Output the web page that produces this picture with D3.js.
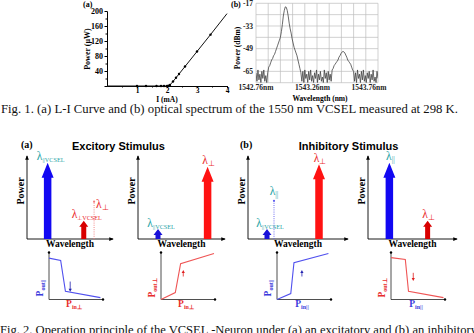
<!DOCTYPE html>
<html>
<head>
<meta charset="utf-8">
<script src="https://cdnjs.cloudflare.com/ajax/libs/d3/7.8.5/d3.min.js"></script>
<style>
  body { margin: 0; background: #fff; }
  #figure { width: 474px; height: 333px; overflow: hidden; }
  svg { display: block; }
</style>
</head>
<body>
<div id="figure"></div>
<script>
// ---------- Fig. 1(a): L-I curve ----------
const liCurrent = [0, 1.0, 1.3, 1.65, 1.8, 1.9, 2.0, 2.05, 2.1, 2.2, 2.3, 2.4, 2.6, 3.0, 3.45, 4.0];
const liPower   = [0, 0,   0,   0,    0,   0,   0,   0.5,  3,   12,  22,  32,  52,  92,  137,  193];
const liPowerTicks = [40, 80, 120, 160, 200];
const liCurrentTicks = [1, 2, 3, 4];

// ---------- Fig. 1(b): optical spectrum (OSA trace, one sample per 0.008 nm) ----------
const specStart = 1542.76, specStep = 0.008;
const specPower = [
  -66, -72, -64, -71, -67, -73, -65, -70, -64, -72, -68, -73,
  -66, -62, -61, -59, -57, -56, -54, -53, -51, -49, -47, -45,
  -43, -41, -37, -32, -26, -22, -19.5, -19.8, -22, -26, -31, -35,
  -38, -42, -45, -48, -50, -52, -54, -57, -60, -63,
  -66, -72, -65, -73, -64, -70, -67, -73, -65, -71, -64, -72, -68, -73, -66, -70,
  -64, -73, -67, -71, -65, -72, -69, -73, -64, -70, -66, -73, -65, -71, -67, -72, -64,
  -63, -61, -60, -59, -58, -57, -55, -54, -52.5, -51.5, -51, -51.2,
  -52, -53.5, -55, -57, -58, -59, -60, -62, -64, -65,
  -72, -66, -73, -64, -70, -67, -73, -65, -71, -64, -72, -68, -73, -66, -70,
  -65, -73, -67, -71, -64, -72, -69, -73, -65, -70
];
const specPowerTicks = [-17, -33, -49, -65];
const specWaveTicks = [1542.76, 1543.26, 1543.76];

// ---------- Fig. 2: schematic spectra (position on wavelength axis, relative power) ----------
const stimulusTags = ["(a)", "(b)"];
const stimulusTitles = ["Excitory Stimulus", "Inhibitory Stimulus"];
const sketchModes = [
  [ {pol: "par",  sub: "||VCSEL", pos: 0.24, power: 0.92},
    {pol: "perp", sub: "\u22a5VCSEL", pos: 0.66, power: 0.22} ],
  [ {pol: "par",  sub: "||VCSEL", pos: 0.23, power: 0.12},
    {pol: "perp", sub: "\u22a5", pos: 0.80, power: 0.87} ],
  [ {pol: "par",  sub: "||VCSEL", pos: 0.19, power: 0.12},
    {pol: "perp", sub: "\u22a5", pos: 0.71, power: 0.90} ],
  [ {pol: "par",  sub: "||", pos: 0.24, power: 0.92},
    {pol: "perp", sub: "\u22a5", pos: 0.67, power: 0.22} ]
];
// injected (external) signal, dotted
const injectedModes = [
  {panel: 0, pol: "perp", sub: "\u22a5", pos: 0.78, power: 0.45},
  {panel: 2, pol: "par",  sub: "||",     pos: 0.26, power: 0.46}
];
// transfer characteristics, normalised Pin / Pout
const transferCurves = [
  {out: "par",  inp: "perp", pts: [[0, 0.9], [0.22, 0.85], [0.31, 0.18], [0.97, 0.04]], trend: [0.40, 0.39, 0.17]},
  {out: "perp", inp: "perp", pts: [[0, 0], [0.27, 0.15], [0.37, 0.78], [1.0, 1.0]],     trend: [0.42, 0.50, 0.64]},
  {out: "par",  inp: "par",  pts: [[0, 0], [0.26, 0.13], [0.32, 0.80], [0.97, 1.0]],    trend: [0.47, 0.50, 0.64]},
  {out: "perp", inp: "par",  pts: [[0, 0.91], [0.27, 0.87], [0.33, 0.18], [0.99, 0.04]], trend: [0.42, 0.58, 0.40]}
];
const polSymbol = {par: "||", perp: "\u22a5"};

const serif = "'Liberation Serif','Times New Roman',serif";
const sans = "'Liberation Sans',Arial,sans-serif";
const teal = "#26a4a6", redLbl = "#ea2a2a";

const svg = d3.select("#figure").append("svg").attr("width", 474).attr("height", 333);

const defs = svg.append("defs");
defs.append("marker").attr("id", "ah").attr("viewBox", "0 0 6 6").attr("refX", 5).attr("refY", 3)
  .attr("markerWidth", 5).attr("markerHeight", 5).attr("orient", "auto")
  .append("path").attr("d", "M0,0.5 L6,3 L0,5.5 Z").attr("fill", "#000");
defs.append("clipPath").attr("id", "specclip").append("rect")
  .attr("x", 256).attr("y", 3.3).attr("width", 122).attr("height", 79.4);

function styleAxis(g, size) {
  g.select(".domain").attr("stroke", "#000").attr("stroke-width", 0.9);
  g.selectAll(".tick line").attr("stroke", "#000");
  g.selectAll("text").attr("font-family", serif).attr("font-weight", "bold")
    .attr("font-size", size).attr("fill", "#000");
}

// ================= Fig. 1(a) =================
const xLI = d3.scaleLinear().domain([0, 4]).range([107, 227]);
const yLI = d3.scaleLinear().domain([0, 200]).range([86, 11]);

svg.append("g").attr("transform", "translate(0,86)")
  .call(d3.axisBottom(xLI).tickValues(d3.range(0.5, 4, 1)).tickSize(1.5).tickSizeOuter(0).tickFormat(""))
  .call(g => styleAxis(g, 8));
svg.append("g").attr("transform", "translate(0,86)")
  .call(d3.axisBottom(xLI).tickValues(liCurrentTicks).tickSize(2).tickPadding(-0.5).tickSizeOuter(0)
    .tickFormat(d3.format("d")))
  .call(g => styleAxis(g, 7.5));
svg.append("g").attr("transform", "translate(107,0)")
  .call(d3.axisLeft(yLI).tickValues(d3.range(20, 200, 40)).tickSize(1.5).tickSizeOuter(0).tickFormat(""))
  .call(g => styleAxis(g, 8));
svg.append("g").attr("transform", "translate(107,0)")
  .call(d3.axisLeft(yLI).tickValues([0].concat(liPowerTicks)).tickSize(2.5).tickPadding(1.5).tickSizeOuter(0)
    .tickFormat(d => d === 0 ? "" : d))
  .call(g => styleAxis(g, 8));

const liData = liCurrent.map((c, i) => [c, liPower[i]]);
svg.append("path").datum(liData)
  .attr("d", d3.line().x(d => xLI(d[0])).y(d => yLI(d[1])))
  .attr("fill", "none").attr("stroke", "#111").attr("stroke-width", 1);
svg.append("g").selectAll("circle").data(liData.slice(1, -1)).join("circle")
  .attr("cx", d => xLI(d[0])).attr("cy", d => yLI(d[1])).attr("r", 1.2).attr("fill", "#000");

svg.append("text").attr("x", 83).attr("y", 7).text("(a)")
  .attr("font-family", serif).attr("font-weight", "bold").attr("font-size", 8);
svg.append("text").attr("transform", "translate(90,49) rotate(-90)").attr("text-anchor", "middle")
  .text("Power (\u00b5W)").attr("font-family", serif).attr("font-weight", "bold").attr("font-size", 8);
svg.append("text").attr("x", 167).attr("y", 101.5).attr("text-anchor", "middle")
  .text("I (mA)").attr("font-family", serif).attr("font-weight", "bold").attr("font-size", 7.5);

// ================= Fig. 1(b) =================
const xSp = d3.scaleLinear().domain([1542.76, 1543.76]).range([256, 378]);
const ySp = d3.scaleLinear().domain([-73, -17]).range([82.7, 3.3]);

const grid = svg.append("g").attr("stroke", "#bdbdbd").attr("stroke-width", 0.7);
grid.selectAll("line.v").data(d3.range(0, 11)).join("line").attr("class", "v")
  .attr("x1", k => xSp(1542.76 + k * 0.1)).attr("x2", k => xSp(1542.76 + k * 0.1))
  .attr("y1", ySp(-17)).attr("y2", ySp(-73));
grid.selectAll("line.h").data(d3.range(0, 8)).join("line").attr("class", "h")
  .attr("y1", k => ySp(-17 - 8 * k)).attr("y2", k => ySp(-17 - 8 * k))
  .attr("x1", xSp(1542.76)).attr("x2", xSp(1543.76));

const specData = specPower.map((p, i) => [specStart + i * specStep, p]);
svg.append("path").datum(specData).attr("clip-path", "url(#specclip)")
  .attr("d", d3.line().x(d => xSp(d[0])).y(d => ySp(d[1])))
  .attr("fill", "none").attr("stroke", "#444").attr("stroke-width", 0.8);

svg.append("g").selectAll("text").data(specPowerTicks).join("text")
  .attr("x", 253).attr("y", d => ySp(d) + 2.8).attr("text-anchor", "end").text(d => d)
  .attr("font-family", serif).attr("font-weight", "bold").attr("font-size", 7.5).attr("fill", "#222");
svg.append("g").selectAll("text").data(specWaveTicks).join("text")
  .attr("x", (d, i) => xSp(d) - i * 4.5).attr("y", 90).attr("text-anchor", "middle")
  .text(d => d.toFixed(2) + "nm")
  .attr("font-family", serif).attr("font-weight", "bold").attr("font-size", 7.5).attr("fill", "#222");
svg.append("text").attr("x", 231).attr("y", 7).text("(b)")
  .attr("font-family", serif).attr("font-weight", "bold").attr("font-size", 8);
svg.append("text").attr("transform", "translate(239.5,48) rotate(-90)").attr("text-anchor", "middle")
  .text("Power (dBm)").attr("font-family", serif).attr("font-weight", "bold").attr("font-size", 7.5);
svg.append("text").attr("x", 320).attr("y", 101).attr("text-anchor", "middle")
  .text("Wavelength (nm)").attr("font-family", serif).attr("font-weight", "bold").attr("font-size", 7.5);

svg.append("text").attr("x", 1).attr("y", 113).attr("textLength", 457).attr("lengthAdjust", "spacingAndGlyphs")
  .text("Fig. 1. (a) L-I Curve and (b) optical spectrum of the 1550 nm VCSEL measured at 298 K.")
  .attr("font-family", serif).attr("font-size", 12).attr("fill", "#111");

// ================= Fig. 2 : spectra sketches =================
[[21, 118.5], [240, 348.5]].forEach(([tx, cx], i) => {
  svg.append("text").attr("x", tx).attr("y", 148).text(stimulusTags[i])
    .attr("font-family", serif).attr("font-weight", "bold").attr("font-size", 10);
  svg.append("text").attr("x", cx).attr("y", 149.5).attr("text-anchor", "middle").text(stimulusTitles[i])
    .attr("font-family", sans).attr("font-weight", "bold").attr("font-size", 11);
});

const sketchX = [[27, 113], [138, 225], [248, 348], [368, 457]];
const skTop = 156, skBot = 239;

function lambdaLabel(g, x, y, sub, color, anchor) {
  const t = g.append("text").attr("x", x).attr("y", y).attr("text-anchor", anchor)
    .attr("font-family", serif).attr("fill", color);
  t.append("tspan").text("\u03bb").attr("font-size", 11.5);
  t.append("tspan").text(sub).attr("font-size", sub.length > 2 ? 6.2 : 7.5).attr("dy", 2);
  return t;
}

sketchX.forEach(([x0, x1], p) => {
  const x = d3.scaleLinear().domain([0, 1]).range([x0, x1]);
  const y = d3.scaleLinear().domain([0, 1]).range([skBot, skTop]);
  const g = svg.append("g");
  g.append("line").attr("x1", x0).attr("y1", skBot).attr("x2", x0).attr("y2", skTop)
    .attr("stroke", "#000").attr("stroke-width", 0.9).attr("marker-end", "url(#ah)");
  g.append("line").attr("x1", x0).attr("y1", skBot).attr("x2", x1).attr("y2", skBot)
    .attr("stroke", "#000").attr("stroke-width", 0.9).attr("marker-end", "url(#ah)");
  g.append("text").attr("transform", `translate(${x0 - 3.5},${191}) rotate(-90)`).attr("text-anchor", "middle")
    .text("Power").attr("font-family", serif).attr("font-weight", "bold").attr("font-size", 10);
  g.append("text").attr("x", (x0 + x1) / 2).attr("y", 247).attr("text-anchor", "middle")
    .text("Wavelength").attr("font-family", serif).attr("font-weight", "bold").attr("font-size", 9.5);

  // injected signal (dotted)
  injectedModes.filter(m => m.panel === p).forEach(m => {
    const cx = x(m.pos), ty = y(m.power);
    const col = m.pol === "par" ? "#5c5cf0" : "#f27c7c";
    g.append("line").attr("x1", cx).attr("x2", cx).attr("y1", skBot).attr("y2", ty)
      .attr("stroke", col).attr("stroke-width", 0.9).attr("stroke-dasharray", "1,1.2");
    g.append("circle").attr("cx", cx).attr("cy", ty).attr("r", 1.1).attr("fill", col);
    if (p === 0) lambdaLabel(g, cx + 2, ty + 6, m.sub, redLbl, "start");
    else lambdaLabel(g, cx, ty - 6, m.sub, teal, "middle");
  });

  sketchModes[p].forEach(m => {
    const big = m.power > 0.5;
    const sw = big ? 7.5 : 5, hw = big ? 12 : 9, hl = big ? 15 : 6;
    const cx = x(m.pos), by = y(0), ty = y(m.power);
    const col = m.pol === "par" ? (big ? "#1208f2" : "#1a12d8") : (big ? "#ff1212" : "#d80000");
    g.append("path")
      .attr("d", `M${cx - sw / 2},${by} L${cx - sw / 2},${ty + hl} L${cx - hw / 2},${ty + hl} L${cx},${ty}
                  L${cx + hw / 2},${ty + hl} L${cx + sw / 2},${ty + hl} L${cx + sw / 2},${by} Z`)
      .attr("fill", col);
    const long = m.sub.length > 2;
    lambdaLabel(g, cx + (long ? 3 : 1), ty - 2.5, m.sub, m.pol === "par" ? teal : redLbl, "middle");
  });
});

// ================= Fig. 2 : transfer curves =================
const trX = [49, 161, 277, 391], trW = 53, trTop = 253.5, trBot = 299.5;
const curveCol = {par: "#5050ee", perp: "#ef5555"};
const lblCol = {par: "#3b3bdc", perp: "#e82c2c"};

transferCurves.forEach((c, i) => {
  const x0 = trX[i];
  const x = d3.scaleLinear().domain([0, 1]).range([x0, x0 + trW]);
  const y = d3.scaleLinear().domain([0, 1]).range([trBot, trTop]);
  const g = svg.append("g");
  g.append("line").attr("x1", x0).attr("y1", trBot).attr("x2", x0).attr("y2", trTop - 1)
    .attr("stroke", "#222").attr("stroke-width", 0.8);
  g.append("line").attr("x1", x0).attr("y1", trBot).attr("x2", x0 + trW + 1).attr("y2", trBot)
    .attr("stroke", "#222").attr("stroke-width", 0.8);
  g.append("circle").attr("cx", x0).attr("cy", trTop - 1).attr("r", 1.2).attr("fill", "#000");
  g.append("circle").attr("cx", x0 + trW + 1).attr("cy", trBot).attr("r", 1.2).attr("fill", "#000");

  g.append("path").datum(c.pts)
    .attr("d", d3.line().x(d => x(d[0])).y(d => y(d[1])))
    .attr("fill", "none").attr("stroke", curveCol[c.out]).attr("stroke-width", 1.1);

  const [tx, ty0, ty1] = c.trend;
  const ax = x(tx), a0 = y(ty0), a1 = y(ty1), dir = a1 > a0 ? 1 : -1;
  const tcol = c.out === "par" ? "#2222b0" : "#e02020";
  g.append("line").attr("x1", ax).attr("x2", ax).attr("y1", a0).attr("y2", a1 - dir * 2)
    .attr("stroke", tcol).attr("stroke-width", 0.8);
  g.append("path").attr("d", `M${ax - 1.6},${a1 - dir * 3} L${ax},${a1} L${ax + 1.6},${a1 - dir * 3} Z`)
    .attr("fill", tcol);

  const yl = g.append("text").attr("transform", `translate(${x0 - 6},288) rotate(-90)`)
    .attr("text-anchor", "middle").attr("font-family", serif).attr("font-weight", "bold").attr("fill", lblCol[c.out]);
  yl.append("tspan").text("P").attr("font-size", 9.5);
  yl.append("tspan").text("out" + polSymbol[c.out]).attr("font-size", 6).attr("dy", 2);

  const xl = g.append("text").attr("x", x0 + 25).attr("y", 307)
    .attr("text-anchor", "middle").attr("font-family", serif).attr("font-weight", "bold").attr("fill", lblCol[c.inp]);
  xl.append("tspan").text("P").attr("font-size", 9.5);
  xl.append("tspan").text("in" + polSymbol[c.inp]).attr("font-size", 6).attr("dy", 2);
});

svg.append("text").attr("x", 0).attr("y", 334).attr("textLength", 477).attr("lengthAdjust", "spacingAndGlyphs")
  .text("Fig. 2. Operation principle of the VCSEL -Neuron under (a) an excitatory and (b) an inhibitory")
  .attr("font-family", serif).attr("font-size", 12).attr("fill", "#111");
</script>
</body>
</html>
